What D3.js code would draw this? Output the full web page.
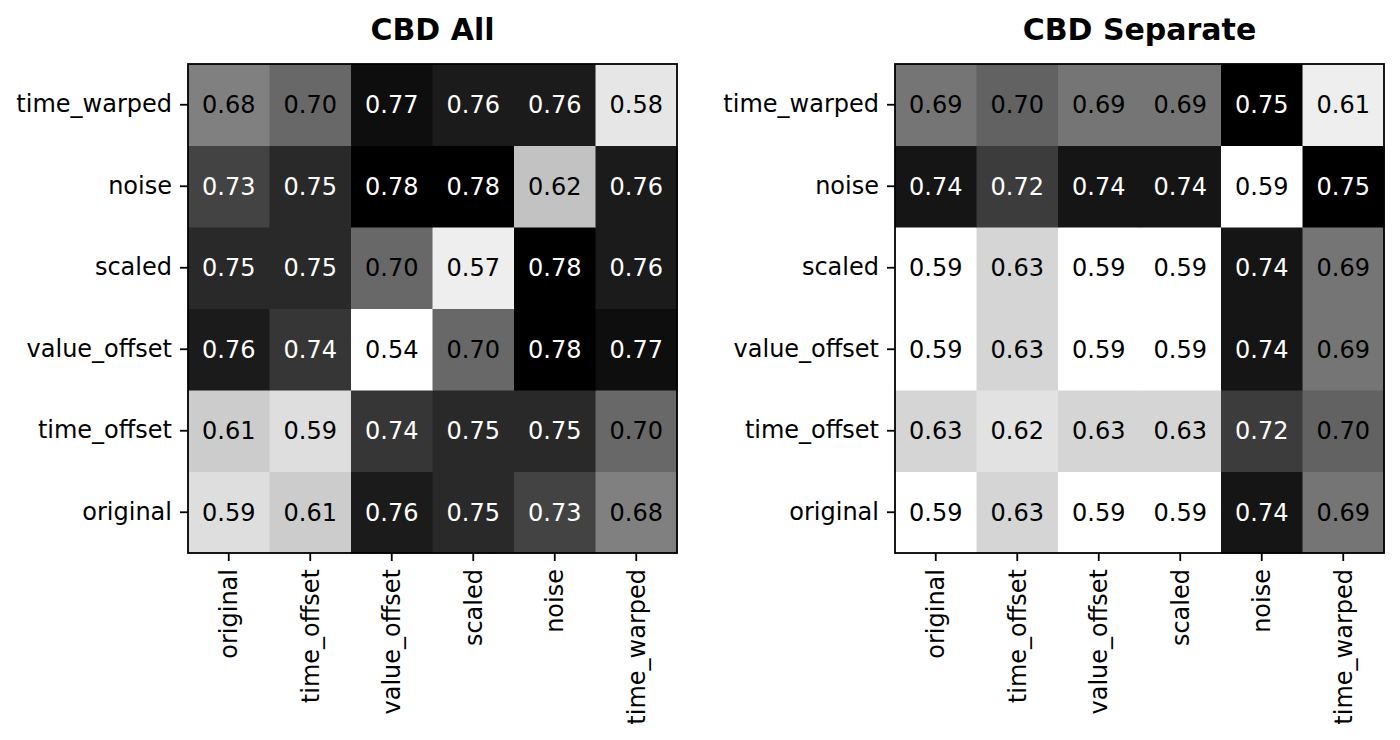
<!DOCTYPE html>
<html>
<head>
<meta charset="utf-8">
<script src="https://cdn.jsdelivr.net/npm/d3@7"></script>
<style>
	body { margin: 0; background: #fff; }
	text { font-family: "DejaVu Sans", sans-serif; }
</style>
</head>
<body>
<svg id="chart" width="1400" height="740"></svg>
<script>
// categories, in the order the x axis reads (and bottom to top on y)
var categories = ['original', 'time_offset', 'value_offset', 'scaled', 'noise', 'time_warped'];

// one row per y category, same order as categories
var cbdAll = [
	[0.59, 0.61, 0.76, 0.75, 0.73, 0.68],
	[0.61, 0.59, 0.74, 0.75, 0.75, 0.70],
	[0.76, 0.74, 0.54, 0.70, 0.78, 0.77],
	[0.75, 0.75, 0.70, 0.57, 0.78, 0.76],
	[0.73, 0.75, 0.78, 0.78, 0.62, 0.76],
	[0.68, 0.70, 0.77, 0.76, 0.76, 0.58]
];

var cbdSeparate = [
	[0.59, 0.63, 0.59, 0.59, 0.74, 0.69],
	[0.63, 0.62, 0.63, 0.63, 0.72, 0.70],
	[0.59, 0.63, 0.59, 0.59, 0.74, 0.69],
	[0.59, 0.63, 0.59, 0.59, 0.74, 0.69],
	[0.74, 0.72, 0.74, 0.74, 0.59, 0.75],
	[0.69, 0.70, 0.69, 0.69, 0.75, 0.61]
];

var titles = ['CBD All', 'CBD Separate'];

const SIZE = 489;
const TOP = 64;
const LEFTS = [188, 895];
const FONT = 24;

var svg = d3.select('#chart');

drawHeatmap(cbdAll, titles[0], LEFTS[0]);
drawHeatmap(cbdSeparate, titles[1], LEFTS[1]);

function drawHeatmap (matrix, title, left) {
	var g = svg.append('g').attr('transform', 'translate(' + left + ',' + TOP + ')');
	var x = d3.scaleBand().domain(categories).range([0, SIZE]);
	var y = d3.scaleBand().domain(categories).range([SIZE, 0]);
	var all = d3.merge(matrix);
	// gray_r style: low = white, high = black (slightly eased toward light)
	var norm = d3.scaleLinear().domain(d3.extent(all)).range([0, 1]).clamp(true);
	var shade = function (v) { return 1 - Math.pow(norm(v), 1.3); };
	var fmt = d3.format('.2f');

	var cells = [];
	matrix.forEach(function (row, i) {
		row.forEach(function (v, j) {
			cells.push({ row: categories[i], col: categories[j], value: v });
		});
	});

	g.selectAll('.cell').data(cells).enter().append('rect')
		.attr('class', 'cell')
		.attr('x', function (d) { return x(d.col); })
		.attr('y', function (d) { return y(d.row); })
		.attr('width', x.bandwidth() + 0.5)
		.attr('height', y.bandwidth() + 0.5)
		.attr('fill', function (d) {
			var c = Math.round(shade(d.value) * 255);
			return d3.rgb(c, c, c);
		});

	g.selectAll('.val').data(cells).enter().append('text')
		.attr('class', 'val')
		.attr('x', function (d) { return x(d.col) + x.bandwidth() / 2; })
		.attr('y', function (d) { return y(d.row) + y.bandwidth() / 2; })
		.attr('dy', '0.36em')
		.attr('text-anchor', 'middle')
		.style('font-size', FONT + 'px')
		.attr('fill', function (d) { return shade(d.value) < 0.35 ? '#fff' : '#000'; })
		.text(function (d) { return fmt(d.value); });

	g.append('rect')
		.attr('width', SIZE)
		.attr('height', SIZE)
		.attr('fill', 'none')
		.attr('stroke', '#000')
		.attr('stroke-width', 1.8);

	var yAxis = g.append('g').call(d3.axisLeft(y).tickSize(8).tickPadding(8));
	var xAxis = g.append('g')
		.attr('transform', 'translate(0,' + SIZE + ')')
		.call(d3.axisBottom(x).tickSize(8).tickPadding(8));

	[xAxis, yAxis].forEach(function (a) {
		a.select('.domain').remove();
		a.selectAll('line').attr('stroke', '#000').attr('stroke-width', 1.8);
		a.selectAll('text').style('font-size', FONT + 'px').attr('fill', '#000');
	});

	xAxis.selectAll('text')
		.attr('transform', 'rotate(-90)')
		.attr('text-anchor', 'end')
		.attr('x', -16)
		.attr('y', 0)
		.attr('dy', '0.36em');

	g.append('text')
		.attr('x', SIZE / 2)
		.attr('y', 40 - TOP)
		.attr('text-anchor', 'middle')
		.style('font-size', '30px')
		.style('font-weight', 'bold')
		.text(title);
}
</script>
</body>
</html>
